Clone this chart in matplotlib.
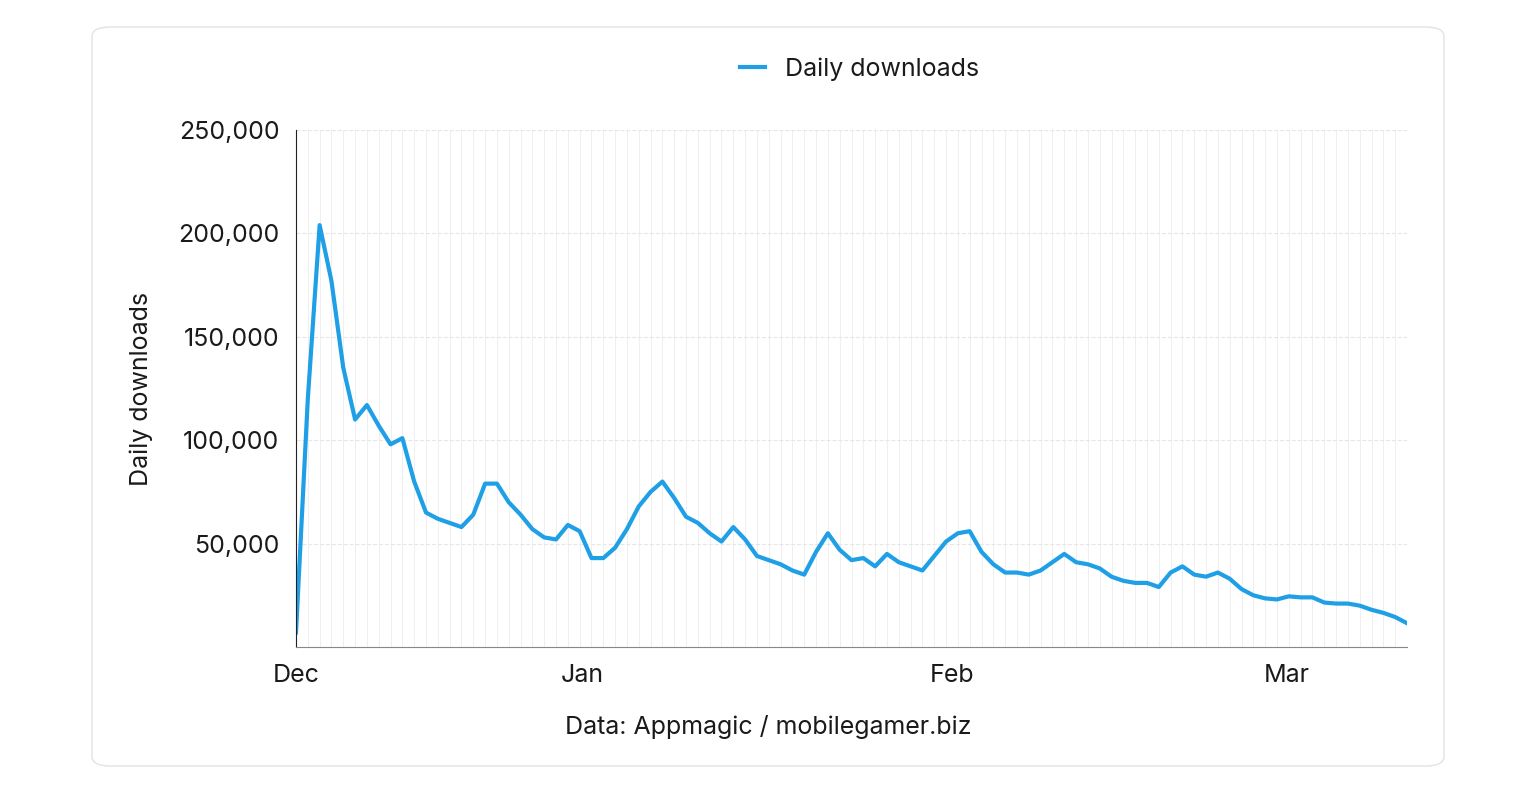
import matplotlib.pyplot as plt
from matplotlib.patches import FancyBboxPatch

plt.rcParams['font.family'] = ['Inter', 'DejaVu Sans']

downloads = [7000, 120000, 204000, 177000, 135000, 110000, 117000, 107000, 98000, 101000,
             80000, 65000, 62000, 60000, 58000, 64000, 79000, 79000, 70000, 64000,
             57000, 53000, 52000, 59000, 56000, 43000, 43000, 48000, 57000, 68000,
             75000, 80000, 72000, 63000, 60000, 55000, 51000, 58000, 52000, 44000,
             42000, 40000, 37000, 35000, 46000, 55000,
             47000, 42000, 43000, 39000, 45000, 41000, 39000, 37000, 44000, 51000,
             55000, 56000, 46000, 40000, 36000, 36000, 35000, 37000, 41000, 45000,
             41000, 40000, 38000, 34000, 32000, 31000, 31000, 29000, 36000, 39000,
             35000, 34000, 36000, 33000, 28000, 25000, 23500, 23000, 24500, 24000,
             24000, 21500, 21000, 21000, 20000, 18000, 16500, 14500, 11500]
month_labels = ['Dec', 'Jan', 'Feb', 'Mar']
month_pos = [0, 24.2, 55.5, 83.8]
yticks = [50000, 100000, 150000, 200000, 250000]

fig = plt.figure(figsize=(15.36, 7.93), dpi=100)
card = FancyBboxPatch((92 / 1536, 1 - 766 / 793), (1444 - 92) / 1536, (766 - 27) / 793,
                      boxstyle='round,pad=0,rounding_size=0.012', transform=fig.transFigure,
                      facecolor='white', edgecolor='#e3e3e3', linewidth=1, zorder=-10)
fig.patches.append(card)

ax = fig.add_axes([296 / 1536, 1 - 647 / 793, (1407 - 296) / 1536, (647 - 130) / 793])
ax.set_zorder(5)
ax.patch.set_alpha(0)
x = list(range(len(downloads)))
line, = ax.plot(x, downloads, color='#1f9fe6', linewidth=3, label='Daily downloads')

ax.set_xlim(0, len(downloads) - 1)
ax.set_ylim(0, 250000)
ax.set_yticks(yticks)
ax.set_yticklabels([f'{v:,}' for v in yticks])
ax.set_xticks(month_pos)
ax.set_xticklabels(month_labels)
ax.set_xticks(x, minor=True)
ax.tick_params(length=0, labelsize=18, colors='#1a1a1a', pad=12)
ax.tick_params(which='minor', length=0)
ax.grid(axis='y', color='#e6e6e6', linestyle='--', linewidth=0.8)
ax.grid(axis='x', which='minor', color='#ececec', linewidth=0.6)
for s in ['top', 'right']:
    ax.spines[s].set_visible(False)
ax.spines['left'].set_color('#222222')
ax.spines['bottom'].set_color('#888888')
ax.set_ylabel('Daily downloads', fontsize=18, labelpad=18, color='#1a1a1a')

fig.text(0.5, 1 - 727 / 793, 'Data: Appmagic / mobilegamer.biz', ha='center', va='center',
         fontsize=18, color='#1a1a1a')
fig.legend(handles=[line], loc='center', bbox_to_anchor=(860 / 1536, 1 - 69 / 793),
           frameon=False, fontsize=18, handlelength=1.0, labelcolor='#1a1a1a')

fig.savefig('out.png', dpi=100)
